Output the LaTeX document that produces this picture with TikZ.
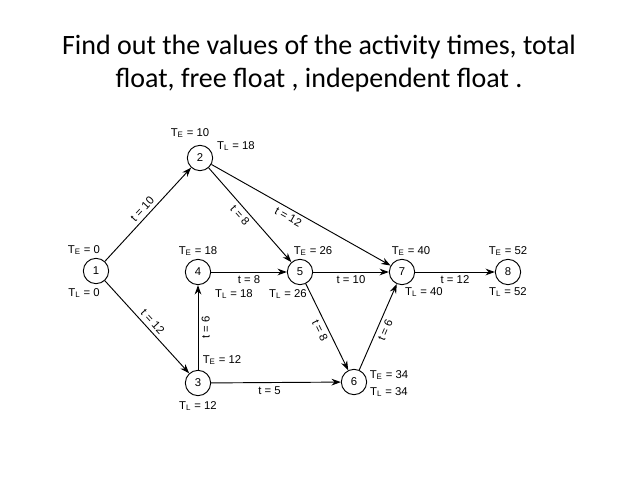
\documentclass[tikz,border=0pt]{standalone}
\usepackage{fontspec}
\setmainfont{Liberation Sans}
\newfontfamily\titlefont{Carlito}
\usetikzlibrary{arrows.meta}
\begin{document}
\begin{tikzpicture}[x=0.75pt,y=-0.75pt,
  ev/.style={circle,draw,line width=0.7pt,minimum size=19pt,inner sep=0pt,font=\fontsize{8.5}{9}\selectfont},
  act/.style={draw,line width=0.7pt,-{Stealth[length=7pt,width=5pt]}},
  lb/.style={font=\fontsize{8.5}{9}\selectfont,inner sep=2.5pt},
  ttl/.style={font=\titlefont\fontsize{21}{25}\selectfont}]
\useasboundingbox (0,0) rectangle (638,478);
\node[ttl] (t1) at (319,47) {Find out the values of the activity times, total};
\node[ttl] (t2) at (319,80) {float, free float , independent float .};
\node[ev] (n1) at (96,271) {1};
\node[ev] (n2) at (200,158) {2};
\node[ev] (n3) at (198,383) {3};
\node[ev] (n4) at (198,272) {4};
\node[ev] (n5) at (300,272) {5};
\node[ev] (n6) at (354,382) {6};
\node[ev] (n7) at (402,272) {7};
\node[ev] (n8) at (508,272) {8};
\draw[act] (n1) -- node[lb,sloped,above] (l12) {t = 10} (n2);
\draw[act] (n1) -- node[lb,sloped,above] (l13) {t = 12} (n3);
\draw[act] (n2) -- node[lb,sloped,below,pos=0.45] (l25) {t = 8} (n5);
\draw[act] (n2) -- node[lb,sloped,below,pos=0.45] (l27) {t = 12} (n7);
\draw[act] (n3) -- node[lb,sloped,below] (l34) {t = 6} (n4);
\draw[act] (n4) -- node[lb,below] (l45) {t = 8} (n5);
\draw[act] (n5) -- node[lb,below] (l57) {t = 10} (n7);
\draw[act] (n7) -- node[lb,below] (l78) {t = 12} (n8);
\draw[act] (n3) -- node[lb,below,pos=0.45] (l36) {t = 5} (n6);
\draw[act] (n5) -- node[lb,sloped,below] (l56) {t = 8} (n6);
\draw[act] (n6) -- node[lb,sloped,below] (l67) {t = 6} (n7);
\node[lb] (e2) at (190,133) {T\textsubscript{E} = 10};
\node[lb] (f2) at (236,146) {T\textsubscript{L} = 18};
\node[lb] (e1) at (84,250) {T\textsubscript{E} = 0};
\node[lb] (f1) at (84,293) {T\textsubscript{L} = 0};
\node[lb] (e4) at (198,251) {T\textsubscript{E} = 18};
\node[lb] (f4) at (234,294) {T\textsubscript{L} = 18};
\node[lb] (e5) at (313,251) {T\textsubscript{E} = 26};
\node[lb] (f5) at (288,294) {T\textsubscript{L} = 26};
\node[lb] (e3) at (222,360) {T\textsubscript{E} = 12};
\node[lb] (f3) at (198,406) {T\textsubscript{L} = 12};
\node[lb] (e6) at (389,375) {T\textsubscript{E} = 34};
\node[lb] (f6) at (389,392) {T\textsubscript{L} = 34};
\node[lb] (e7) at (411,251) {T\textsubscript{E} = 40};
\node[lb] (f7) at (424,292) {T\textsubscript{L} = 40};
\node[lb] (e8) at (508,251) {T\textsubscript{E} = 52};
\node[lb] (f8) at (508,292) {T\textsubscript{L} = 52};
\end{tikzpicture}
\end{document}
